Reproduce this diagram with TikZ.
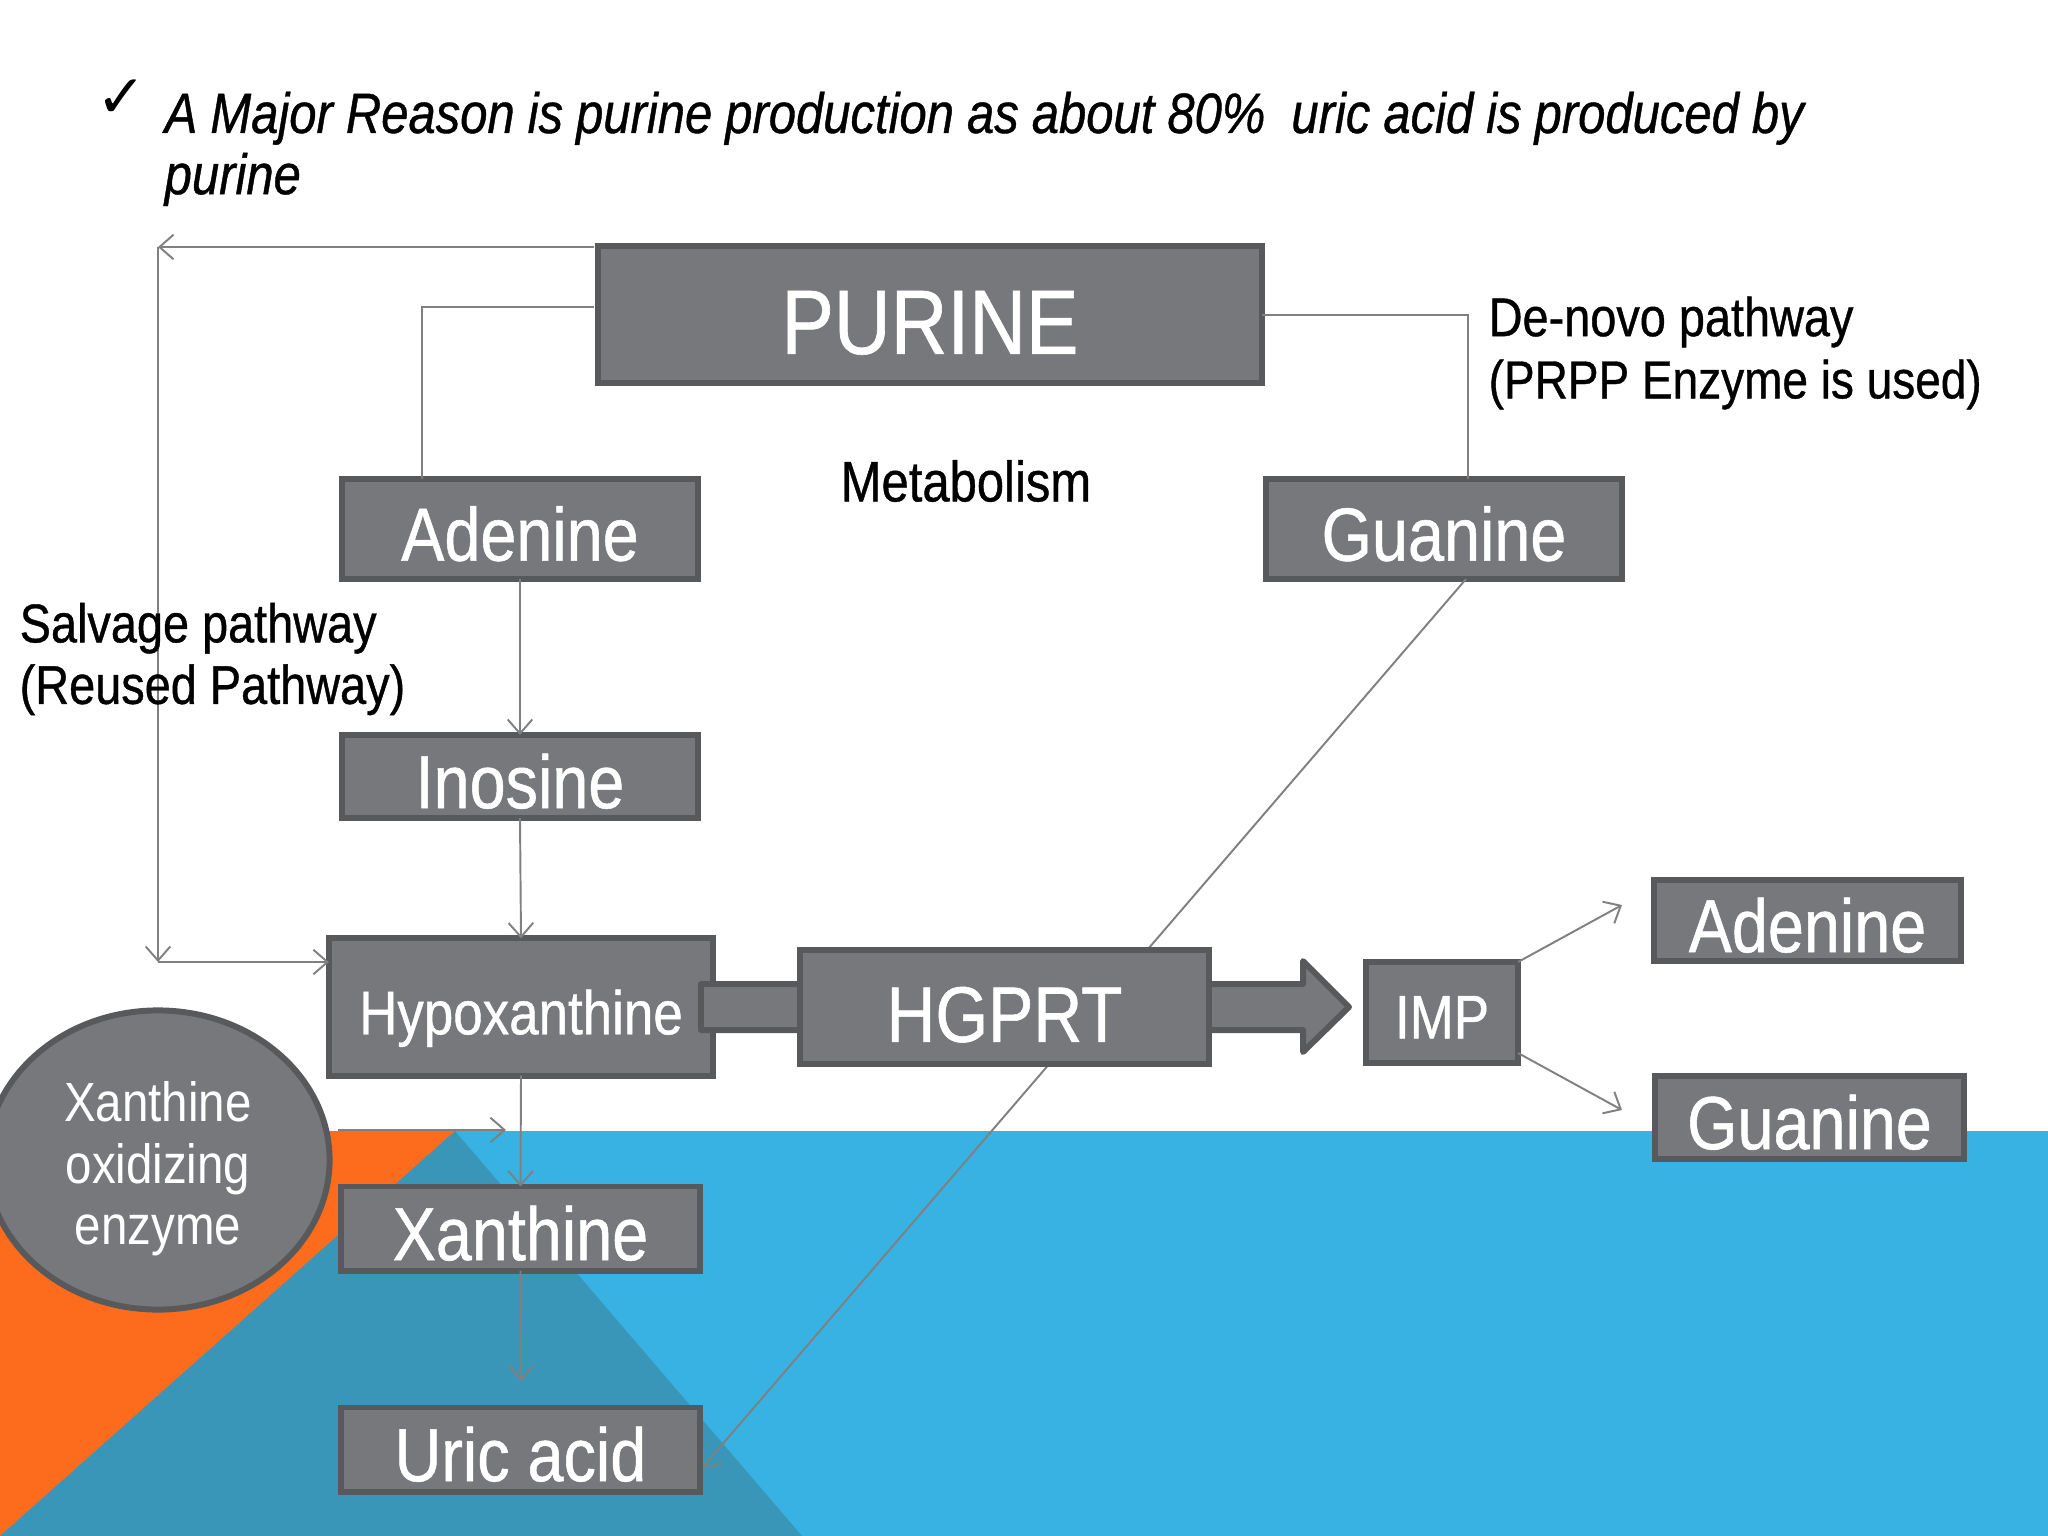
\documentclass[tikz,border=0pt]{standalone}
\usepackage{fontspec}
\setmainfont[FakeStretch=0.86,FakeBold=0.7]{Liberation Sans}
\newfontfamily\lightfont[FakeStretch=0.86]{Liberation Sans}
\newfontfamily\checkfont{DejaVu Sans}
\usetikzlibrary{arrows.meta,shapes.geometric,calc}
\definecolor{boxfill}{HTML}{77787B}
\definecolor{boxline}{HTML}{58595B}
\definecolor{linegray}{HTML}{808080}
\definecolor{skyblue}{HTML}{38B2E2}
\definecolor{darkblue}{HTML}{3A96B8}
\definecolor{orangefill}{HTML}{FC6C1C}
\newcommand{\fsz}[1]{\fontsize{#1}{#1}\selectfont}
\tikzset{
  box/.style={draw=boxline,fill=boxfill,line width=1.7pt,text=white,outer sep=0pt,inner sep=0pt,align=center},
  midlabel/.style={font=\fsz{21.4},text height=18pt,text depth=0pt},
  blackline/.style={draw=linegray,line width=0.55pt},
  conn/.style={blackline,-{Straight Barb[length=4pt,width=7pt]}},
  lab/.style={text=black,anchor=west,align=left,inner sep=0pt,font=\fsz{15.5}},
}
\begin{document}
\begin{tikzpicture}[x=0.01cm,y=-0.01cm]
\useasboundingbox (0,0) rectangle (2048,1536);
\fill[white] (0,0) rectangle (2048,1536);
\fill[skyblue] (0,1131) rectangle (2048,1536);
\fill[orangefill] (0,1131) -- (455,1131) -- (0,1540) -- cycle;
\fill[darkblue] (455,1131) -- (802,1536) -- (0,1536) -- cycle;
% header
\node[inner sep=0pt,text=black] (chk) at (122,99) {\checkfont\fsz{17}✓};
\node[anchor=north west,inner sep=0pt,align=left,text=black,font=\fsz{16.2}\itshape,text width=18cm] (head) at (164,91) {\spaceskip=3.7pt A Major Reason is purine production as about 80\%\hspace{7.4pt}uric acid is produced by\\[1.2pt]purine};
% boxes
\coordinate (tl) at (158,247);
\coordinate (bl) at (158,962);
\coordinate (ad) at (422,307);
\coordinate (gd) at (1468,315);
\coordinate (enzt) at (506,1130);
\coordinate (xue) at (521,1381);
\coordinate (ia) at (1622,905);
\coordinate (ig) at (1622,1110);
\coordinate (pl) at (594,247);
\coordinate (pa) at (594,307);
\node[box,minimum width=6.63cm,minimum height=1.36cm,font=\fsz{26},text height=22.4pt,text depth=0pt] (purine) at (930,314.5) {PURINE};
\node[box,midlabel,minimum width=3.56cm,minimum height=1cm] (adenA) at (520,529) {Adenine};
\node[box,midlabel,minimum width=3.56cm,minimum height=1cm] (guanA) at (1444,529) {Guanine};
\node[box,midlabel,minimum width=3.56cm,minimum height=0.83cm] (inos) at (520,776.5) {Inosine};
% background connectors
\draw[conn] (guanA.south -| 1466,0) -- (702,1468);
\draw[blackline] (pa) -- (ad) -- (ad |- adenA.north);
\draw[blackline] (purine.east |- gd) -- (gd) -- (gd |- guanA.north);
\draw[conn] (pl) -- (tl);
\draw[conn] (tl) -- (bl);
\node[box,minimum width=3.84cm,minimum height=1.37cm,font=\fsz{17.5},text height=15.5pt,text depth=0pt] (hypo) at (521,1007) {Hypoxanthine};
% wide arrow, drawn over the Hypoxanthine box
\draw[draw=boxline,fill=boxfill,line width=1.7pt,line join=round] (701,984) -- (1303,984) -- (1303,961) -- (1349,1007) -- (1303,1052) -- (1303,1030) -- (701,1030) -- cycle;
\node[box,minimum width=4.09cm,minimum height=1.14cm,font=\fsz{22.4},text height=19.8pt,text depth=0pt] (hgprt) at (1004.5,1007) {HGPRT};
\node[box,minimum width=1.52cm,minimum height=1.01cm,font=\fsz{17.5},text height=14.7pt,text depth=0pt] (imp) at (1442,1012.5) {IMP};
\node[box,midlabel,minimum width=3.07cm,minimum height=0.81cm] (adenB) at (1807.5,920.5) {Adenine};
\node[box,midlabel,minimum width=3.09cm,minimum height=0.83cm] (guanB) at (1809.5,1117.5) {Guanine};
\node[box,midlabel,minimum width=3.58cm,minimum height=0.84cm] (xan) at (520.5,1228.5) {Xanthine};
\node[box,midlabel,minimum width=3.58cm,minimum height=0.84cm] (uric) at (520.5,1449.5) {Uric acid};
\node[box,ellipse,minimum width=3.43cm,minimum height=2.99cm] (enz) at (158,1160) {};
\node[inner sep=0pt,align=center,text=white,font=\lightfont\fsz{15.7}] (enztext) at (158,1169) {Xanthine\\[1.8pt]oxidizing\\[1.8pt]enzyme};
% connectors
\draw[conn] (bl) -- (hypo.west |- bl);
\draw[conn] (adenA.south) -- (inos.north);
\draw[conn] (inos.south) -- (hypo.north);
\draw[conn] (hypo.south) -- (xan.north);
\draw[conn] (xan.south) -- (xue);
\draw[conn] (enz.east |- enzt) ++(8,0) -- (enzt);
\draw[conn] (imp.north east) -- (ia);
\draw[conn] (imp.south east) ++(0,-10) -- (ig);
% labels
\node[lab] (denovo) at (1488,353) {De-novo pathway\\[2.2pt]\fsz{15.2}(PRPP Enzyme is used)};
\node[lab,font=\fsz{16.2}] (meta) at (840,481) {Metabolism};
\node[lab] (salv) at (19,659) {Salvage pathway\\[2pt](Reused Pathway)};
\end{tikzpicture}
\end{document}
